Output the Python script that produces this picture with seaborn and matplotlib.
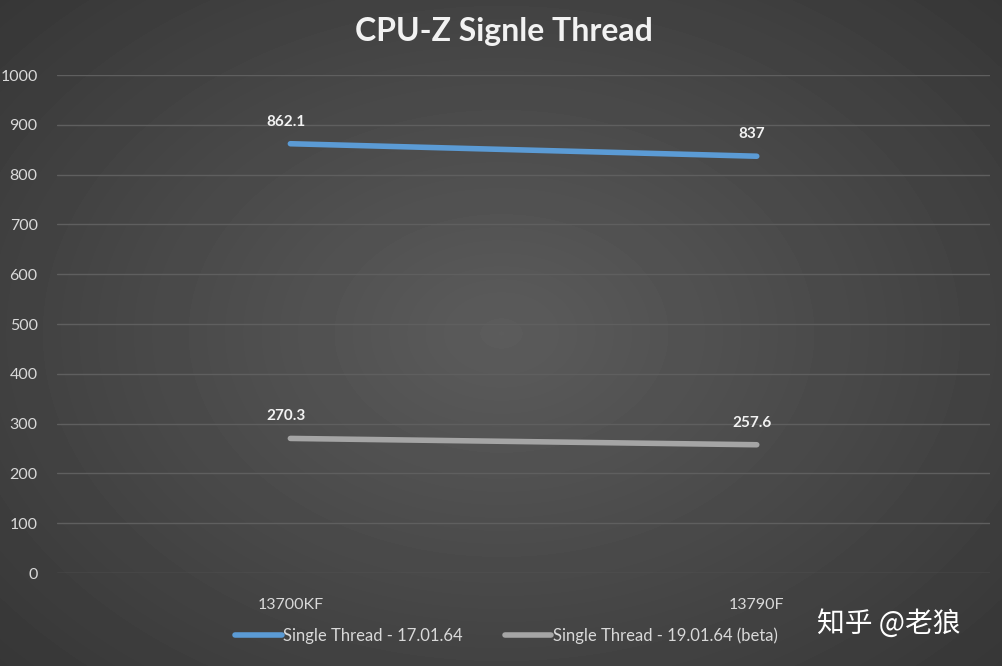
import numpy as np
import pandas as pd
import matplotlib
matplotlib.use("Agg")
import matplotlib.pyplot as plt
import seaborn as sns

categories = ["13700KF", "13790F"]
series_names = ["Single Thread - 17.01.64", "Single Thread - 19.01.64 (beta)"]
v17 = [862.1, 837]
v19 = [270.3, 257.6]
labels17 = ["862.1", "837"]
labels19 = ["270.3", "257.6"]
colors = ["#5b9bd5", "#a5a5a5"]

sns.set_style("dark")
plt.rcParams['font.family'] = ['Lato', 'DejaVu Sans', 'Noto Sans CJK SC']

fig = plt.figure(figsize=(10.03, 6.66), dpi=100)
bg = fig.add_axes([0, 0, 1, 1], zorder=-1)
yy, xx = np.mgrid[0:666, 0:1003]
r = np.sqrt(((xx - 501) / 700) ** 2 + ((yy - 333) / 500) ** 2)
img = np.clip(0.36 - 0.15 * r, 0.18, 0.36)
bg.imshow(img, cmap="gray", vmin=0, vmax=1, aspect="auto")
bg.axis("off")

ax = fig.add_axes([0.057, 0.1396, 0.930, 0.7477])
ax.set_facecolor("none")
df = pd.DataFrame({"cat": categories * 2, "val": v17 + v19,
                   "series": [series_names[0]] * 2 + [series_names[1]] * 2})
df["x"] = [0, 1, 0, 1]
sns.lineplot(data=df, x="x", y="val", hue="series", palette=colors, lw=4, ax=ax, legend=False)
for vals, labs in ((v17, labels17), (v19, labels19)):
    for i, (v, l) in enumerate(zip(vals, labs)):
        ax.text(i - 0.01, v + 30, l, color="#f2f2f2", fontsize=11, fontweight="bold", ha="center", va="bottom")
ax.set_xlim(-0.5, 1.5)
ax.set_ylim(0, 1000)
ax.set_yticks(range(0, 1001, 100))
ax.set_xticks([0, 1])
ax.set_xticklabels(categories)
ax.tick_params(colors="#d9d9d9", labelsize=11.5, length=0)
ax.tick_params(axis="x", pad=18)
ax.grid(axis="y", color="#5f5f5f", lw=1)
ax.grid(axis="x", visible=False)
for s in ax.spines.values():
    s.set_visible(False)
ax.set_xlabel(""); ax.set_ylabel("")
ax.tick_params(axis="y", pad=14)

t = fig.text(0.502, 0.952, "CPU-Z Signle Thread", color="#f2f2f2", fontsize=23, fontweight="bold", ha="center", va="center")
from matplotlib.lines import Line2D
handles = [Line2D([], [], color=c, lw=4) for c in colors]
fig.legend(handles, series_names, loc="center", bbox_to_anchor=(0.505, 0.045), ncol=2, frameon=False,
           labelcolor="#d9d9d9", fontsize=12, handlelength=2.8, handletextpad=0.1, columnspacing=2.5)
fig.text(0.815, 0.063, "知乎 @老狼", color="white", fontsize=20, family=['Noto Sans CJK SC'], va="center")
fig.savefig("out.png", dpi=100)
